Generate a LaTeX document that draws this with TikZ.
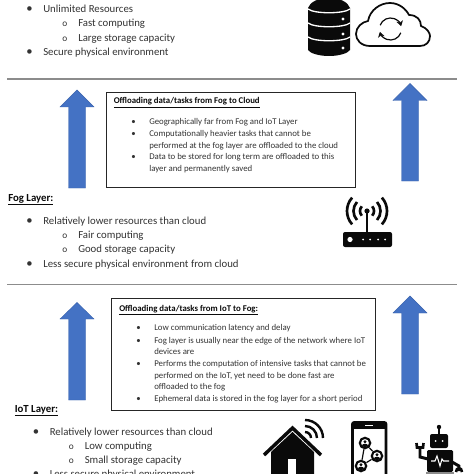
\documentclass[tikz,border=0pt]{standalone}
\usepackage{fontspec}
\setmainfont{Carlito}
\usetikzlibrary{arrows.meta}
\definecolor{txt}{HTML}{333333}
\definecolor{rulecol}{HTML}{8C8C8C}
\definecolor{upfill}{HTML}{4472C4}
\definecolor{upedge}{HTML}{3A63AD}
\definecolor{ink}{HTML}{0A0A0A}
\tikzset{
  lay/.style={anchor=base west,inner sep=0pt,text=txt,font=\fontsize{8.08}{10}\selectfont},
  head/.style={anchor=base west,inner sep=0pt,text=ink,font=\fontsize{8.1}{10}\selectfont\bfseries},
  boxtxt/.style={anchor=base west,inner sep=0pt,text=txt,font=\fontsize{6.6}{8}\selectfont},
  boxhead/.style={anchor=base west,inner sep=0pt,text=ink,font=\fontsize{6.6}{8}\selectfont\bfseries},
  panel/.style={draw=black!85,line width=0.75pt,fill=white},
  divider/.style={draw=rulecol,line width=0.8pt},
  uparrow/.style={fill=upfill,draw=upedge,line width=0.3pt},
  wave/.style={draw=ink,line width=2pt}
}
\newcommand{\lbul}[4]{\node[lay,font=\fontsize{9.5}{10}\selectfont] (#1b) at (#2-17,#3) {•}; \node[lay] (#1) at (#2,#3) {#4};}
\newcommand{\lcir}[4]{\node[lay,font=\fontsize{7}{9}\selectfont] (#1b) at (#2-16,#3) {o}; \node[lay] (#1) at (#2,#3) {#4};}
\newcommand{\bbul}[4]{\node[boxtxt] (#1b) at (#2-18,#3) {•}; \node[boxtxt] (#1) at (#2,#3) {#4};}
\newcommand{\bigup}[4]{\draw[uparrow] (#1-8.5,#4) -- (#1-8.5,#3) -- (#1-17,#3) -- (#1,#2) -- (#1+17,#3) -- (#1+8.5,#3) -- (#1+8.5,#4) -- cycle;}
\begin{document}
\begin{tikzpicture}[x=0.75pt,y=-0.75pt]
\useasboundingbox (0,0) rectangle (474,474);
\clip (0,0) rectangle (474,474);
\fill[white] (0,0) rectangle (474,474);

% Cloud layer text
\lbul{a1}{43}{13}{Unlimited Resources}
\lcir{a2}{78}{27}{Fast computing}
\lcir{a3}{78}{41.5}{Large storage capacity}
\lbul{a4}{43}{55.5}{Secure physical environment}
\path[divider] (7,79) -- (457,79);

% Database
\fill[ink] (308,8) .. controls (310,2) and (318,-2) .. (329,-2) .. controls (340,-2) and (348,2) .. (350,8)
  -- (350,50) .. controls (348,53) and (340,56) .. (329,56) .. controls (318,56) and (310,53) .. (308,50) -- cycle;
\foreach \yy in {9,23,37}{
  \draw[white,line width=1pt] (308,\yy) .. controls (314,\yy+5) and (344,\yy+5) .. (350,\yy);
}
\fill[white] (343,19) circle (1.6) (343,34) circle (1.6) (343,48) circle (1.6);

% Cloud
\draw[ink,line width=1.3pt,line join=round] (370,46) .. controls (361,46) and (356,40) .. (356,34) .. controls (356,27) and (362,22) .. (368,21) .. controls (370,10) and (380,3) .. (390,3) .. controls (399,3) and (406,9) .. (409,15) .. controls (417,15) and (421,20) .. (421,26) .. controls (427,28) and (430,33) .. (430,36) .. controls (430,42) and (426,46) .. (420,46) -- cycle;
\draw[ink,line width=0.9pt,-{Stealth[length=4pt,width=5pt]}] (390.5,29) ++(-160:11) arc (-160:-15:11);
\draw[ink,line width=0.9pt,-{Stealth[length=4pt,width=5pt]}] (390.5,29) ++(20:11) arc (20:165:11);

% Arrows and box 1
\bigup{77}{90}{107}{188}
\bigup{410}{83.5}{100.5}{181}
\node[panel,minimum width=186.75pt,minimum height=71.25pt,anchor=north west,inner sep=0pt] (boxa) at (106,92) {};
\node[boxhead] (boxat) at (113.5,104) {\underline{Offloading data/tasks from Fog to Cloud}};
\bbul{c1}{149}{124.5}{Geographically far from Fog and IoT Layer}
\bbul{c2}{149}{136.5}{Computationally heavier tasks that cannot be}
\node[boxtxt] (c3) at (149,148) {performed at the fog layer are offloaded to the cloud};
\bbul{c4}{149}{160}{Data to be stored for long term are offloaded to this}
\node[boxtxt] (c5) at (149,171.5) {layer and permanently saved};

% Fog layer
\node[head] (fog) at (8,201) {\underline{Fog Layer:}};
\lbul{f1}{43}{224}{Relatively lower resources than cloud}
\lcir{f2}{78}{238}{Fair computing}
\lcir{f3}{78}{252.5}{Good storage capacity}
\lbul{f4}{43}{267.5}{Less secure physical environment from cloud}
\path[divider] (7,284.5) -- (457,284.5);

% Router
\fill[ink,rounded corners=1.5pt] (343,232) rectangle (392,247);
\fill[white] (350,239.5) circle (2.6);
\foreach \xx in {363,370,378,385}{\fill[white] (\xx,239.5) circle (1);}
\draw[ink,line width=1.5pt] (367,212) -- (367,232);
\fill[ink] (367,211) circle (2.6);
\foreach \rr in {7,13.5,20}{
  \draw[wave] (367,211) ++(-42:\rr) arc (-42:42:\rr);
  \draw[wave] (367,211) ++(138:\rr) arc (138:222:\rr);
}

% Arrows and box 2
\bigup{77}{302.5}{319}{400}
\bigup{410}{296}{313}{394}
\node[panel,minimum width=198pt,minimum height=84pt,anchor=north west,inner sep=0pt] (boxb) at (111,298) {};
\node[boxhead] (boxbt) at (119,311) {\underline{Offloading data/tasks from IoT to Fog:}};
\bbul{d1}{154}{330.5}{Low communication latency and delay}
\bbul{d2}{154}{343}{Fog layer is usually near the edge of the network where IoT}
\node[boxtxt] (d3) at (154,354.5) {devices are};
\bbul{d4}{154}{366.5}{Performs the computation of intensive tasks that cannot be}
\node[boxtxt] (d5) at (154,378) {performed on the IoT, yet need to be done fast are};
\node[boxtxt] (d6) at (154,389.5) {offloaded to the fog};
\bbul{d7}{154}{401.5}{Ephemeral data is stored in the fog layer for a short period}

% IoT layer
\node[head] (iot) at (14.5,412) {\underline{IoT Layer:}};
\lbul{g1}{49.5}{435}{Relatively lower resources than cloud}
\lcir{g2}{84.5}{449}{Low computing}
\lcir{g3}{84.5}{463}{Small storage capacity}
\lbul{g4}{49.5}{477}{Less secure physical environment}

% House
\draw[ink,line width=2.6pt,miter limit=10] (264,455) -- (292.5,428) -- (321,455);
\fill[ink] (271,480) -- (271,452) -- (292.5,432) -- (314,452) -- (314,480) -- cycle;
\fill[white] (288,459) rectangle (296,480);
\foreach \rr in {6,12,18}{
  \draw[wave,line width=1.8pt] (305,438) ++(-90:\rr) arc (-90:0:\rr);
}

% Phone
\draw[ink,line width=2.2pt,rounded corners=1.5pt] (352.5,422.5) rectangle (386,482);
\fill[ink] (352.5,422.5) rectangle (386,429);
\draw[white,line width=1pt] (365,425.5) -- (373,425.5);
\coordinate (pa) at (365,443);
\coordinate (pb) at (377,456);
\coordinate (pc) at (361,466);
\draw[ink,line width=0.9pt] (pa) -- (pb) -- (pc) -- cycle;
\foreach \pp in {pa,pb,pc}{
  \fill[white] (\pp) circle (6.4);
  \draw[ink,line width=1.6pt] (\pp) circle (5.2);
  \fill[ink] ([yshift=1pt]\pp) circle (1.6);
  \fill[ink] ([yshift=-1.8pt]\pp) ellipse (3 and 1.6);
}

% Robot
\fill[ink] (439,427) circle (2.2);
\draw[ink,line width=1.2pt] (439,427) -- (439,435);
\fill[ink,rounded corners=1.5pt] (430,434) rectangle (448,448);
\fill[white] (435.5,441) circle (1) (442.5,441) circle (1);
\fill[ink,rounded corners=1pt] (427,450) rectangle (453,472);
\draw[white,line width=0.8pt] (431,461) -- (435,461) -- (437,456) -- (440,466) -- (442,459) -- (443.5,461) -- (449,461);
\draw[ink,line width=2.2pt] (428,459) -- (420,457) -- (420,447);
\draw[ink,line width=2pt] (416.5,443) -- (417,447.5) -- (423,447.5) -- (423.5,443);
\draw[ink,line width=2.2pt] (452,462) -- (459,466) -- (459,471);
\draw[ink,line width=2pt] (456,472) .. controls (456,467) and (462,467) .. (462,472);
\fill[rulecol] (426,472) rectangle (454,476);
\end{tikzpicture}
\end{document}
